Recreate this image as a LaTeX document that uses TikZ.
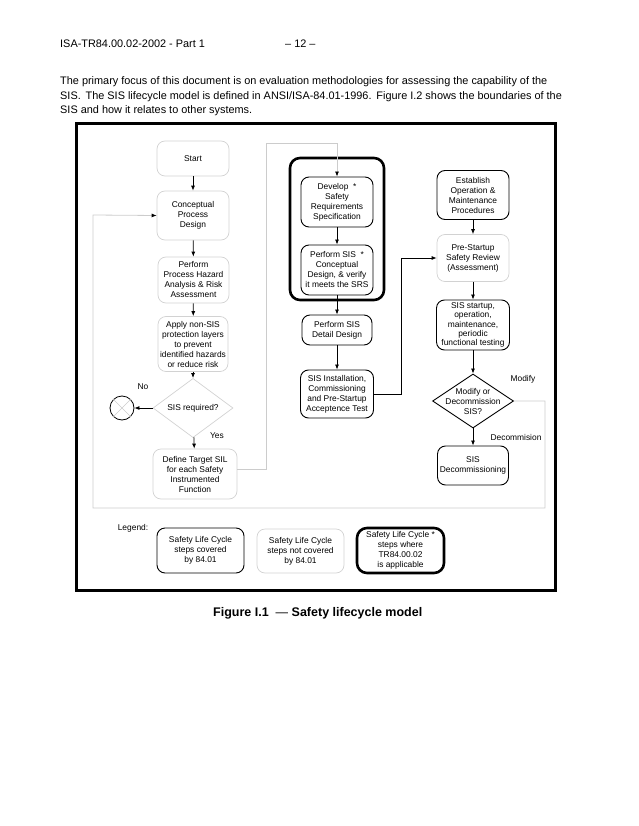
\documentclass[tikz,border=0pt]{standalone}
\usepackage{fontspec}
\setmainfont{Liberation Sans}
\usetikzlibrary{arrows.meta, shapes.geometric, positioning}

\begin{document}
\begin{tikzpicture}[x=1pt,y=-1pt,
  every node/.style={font=\fontsize{8.4}{10}\selectfont, align=center, inner sep=0pt},
  stepbox/.style={draw=black, line width=0.9pt, rounded corners=8pt},
  otherbox/.style={draw=gray!35, line width=0.7pt, rounded corners=8pt},
  tagbox/.style={draw=black, line width=2.6pt, rounded corners=10pt},
  arr/.style={-{Latex[length=5pt,width=4pt]}, line width=0.8pt},
  feed/.style={draw=gray!40, line width=0.8pt, -{Latex[length=5pt,width=4pt,color=black]}},
  bodytext/.style={font=\fontsize{10.9}{14.5}\selectfont, anchor=base west, align=left}]
\useasboundingbox (0,0) rectangle (638,826);
% page header and text
\node[bodytext] at (60,48) {ISA-TR84.00.02-2002 - Part 1};
\node[bodytext] at (285,48) {-- 12 --};
\node[bodytext] at (60,85) {The primary focus of this document is on evaluation methodologies for assessing the capability of the};
\node[bodytext] at (60,100) {SIS.\,\ The SIS lifecycle model is defined in ANSI/ISA-84.01-1996.\,\ Figure I.2 shows the boundaries of the};
\node[bodytext] at (60,114) {SIS and how it relates to other systems.};
% the frame around the figure
\draw[line width=3pt] (76,124) rectangle (555,590);
% the left column
\node[otherbox, minimum width=72pt, minimum height=35pt] (start) at (193,158.5) {Start};
\node[otherbox, minimum width=72pt, minimum height=49pt] (cpd) at (193,215.5) {Conceptual\\Process\\Design};
\node[otherbox, minimum width=71pt, minimum height=46pt] (pha) at (193.5,280) {Perform\\Process Hazard\\Analysis \& Risk\\Assessment};
\node[otherbox, minimum width=70pt, minimum height=55pt] (nonsis) at (193,344) {Apply non-SIS\\protection layers\\to prevent\\identified hazards\\or reduce risk};
\node[diamond, draw=gray!35, line width=0.7pt, minimum width=80pt, minimum height=54pt] (sisreq) at (193,408) {SIS required?};
\node[circle, draw=black, line width=0.8pt, minimum size=24pt] (stop) at (122,408) {};
\draw[gray!40, line width=0.6pt] (stop.north west) -- (stop.south east) (stop.north east) -- (stop.south west);
\node[otherbox, minimum width=84pt, minimum height=50pt] (sil) at (195,474) {Define Target SIL\\for each Safety\\Instrumented\\Function};
\node (nolbl) at (143,387) {No};
\node (yeslbl) at (217,436) {Yes};
% the middle column
\node[tagbox, minimum width=94pt, minimum height=142pt] (tr) at (337,229) {};
\node[stepbox, minimum width=72pt, minimum height=50pt] (dev) at (337,202) {Develop~~*\\Safety\\Requirements\\Specification};
\node[stepbox, minimum width=72pt, minimum height=50pt] (sisc) at (337,270) {Perform SIS~~*\\Conceptual\\Design, \& verify\\it meets the SRS};
\node[stepbox, minimum width=70pt, minimum height=30pt] (det) at (337,330) {Perform SIS\\Detail Design};
\node[stepbox, minimum width=73pt, minimum height=48pt] (inst) at (337,394) {SIS Installation,\\Commissioning\\and Pre-Startup\\Acceptence Test};
% the right column
\node[stepbox, minimum width=72pt, minimum height=49pt] (est) at (473,195) {Establish\\Operation \&\\Maintenance\\Procedures};
\node[otherbox, minimum width=72pt, minimum height=47pt] (psr) at (473,258) {Pre-Startup\\Safety Review\\(Assessment)};
\node[stepbox, minimum width=73pt, minimum height=50pt, font=\fontsize{8.4}{9.4}\selectfont] (op) at (473,325) {SIS startup,\\operation,\\maintenance,\\periodic\\functional testing};
\node[diamond, draw=black, line width=0.9pt, minimum width=81pt, minimum height=54pt] (dmod) at (473,401) {};
\node at (dmod) {Modify or\\Decommission\\SIS?};
\node[stepbox, minimum width=71pt, minimum height=39pt] (dec) at (473,465.5) {SIS\\Decommissioning};
\node (modlbl) at (523,379) {Modify};
\node (declbl) at (516,437) {Decommision};
% we draw the arrows
\foreach \a/\b in {start/cpd, cpd/pha, pha/nonsis, nonsis/sisreq, sisreq/stop, sisreq/sil, dev/sisc, sisc/det, det/inst, est/psr, psr/op, op/dmod, dmod/dec}
  \draw[arr] (\a) -- (\b);
\draw[arr] (inst.east) -| (401,258) -- (psr.west);
\draw[feed] ([yshift=5pt]sil.east) -| (266,143) -| (dev.north);
\draw[feed] (dmod.east) -| (545,508) -| (93,215) -- (cpd.west);
% the legend
\node (leg) at (133,528) {Legend:};
\node[stepbox, minimum width=87pt, minimum height=45pt] (leg1) at (200.5,550.5) {Safety Life Cycle\\steps covered\\by 84.01};
\node[otherbox, minimum width=87pt, minimum height=44pt] (leg2) at (300.5,551) {Safety Life Cycle\\steps not covered\\by 84.01};
\node[tagbox, minimum width=87pt, minimum height=45pt] (leg3) at (400.5,550.5) {Safety Life Cycle *\\steps where\\TR84.00.02\\is applicable};
% the caption
\node[font=\fontsize{12.5}{14}\selectfont\bfseries, anchor=base west] (cap) at (213,616) {Figure I.1\ \ \textmd{---} Safety lifecycle\ model};
\end{tikzpicture}
\end{document}
